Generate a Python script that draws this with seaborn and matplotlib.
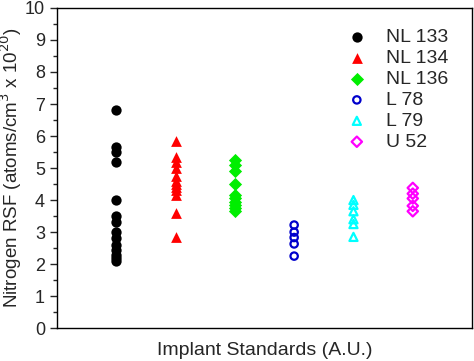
import numpy as np
import pandas as pd
import seaborn as sns
import matplotlib
matplotlib.use("Agg")
import matplotlib.pyplot as plt
from matplotlib.ticker import MultipleLocator

labels = ["NL 133", "NL 134", "NL 136", "L 78", "L 79", "U 52"]
nl133 = [6.8, 5.65, 5.5, 5.2, 4.0, 3.5, 3.3, 3.0, 2.8, 2.6, 2.45, 2.3, 2.2, 2.1]
nl134 = [5.85, 5.35, 5.2, 5.0, 4.75, 4.6, 4.5, 4.4, 4.3, 4.15, 3.6, 2.85]
nl136 = [5.25, 5.1, 4.9, 4.5, 4.15, 4.05, 3.95, 3.85, 3.75, 3.65]
l78 = [3.22, 3.0, 2.83, 2.63, 2.25]
l79 = [4.0, 3.85, 3.65, 3.4, 3.25, 2.85]
u52 = [4.38, 4.2, 4.05, 3.82, 3.65]
series = [nl133, nl134, nl136, l78, l79, u52]
colors = ["black", "red", "#00ee00", "#0000cc", "cyan", "magenta"]
markers = ["o", "^", "D", "o", "^", "D"]
filled = [True, True, True, False, False, False]
sizes = [55, 60, 45, 28, 34, 28]

sns.set_style("ticks")
plt.rcParams['font.family'] = ['Liberation Sans', 'DejaVu Sans']

fig = plt.figure(figsize=(4.74, 3.61), dpi=100)
ax = fig.add_axes([0.120, 0.091, 0.876, 0.887])

for i, (lab, vals) in enumerate(zip(labels, series)):
    df = pd.DataFrame({"x": [i + 1] * len(vals), "y": vals})
    if filled[i]:
        sns.scatterplot(data=df, x="x", y="y", ax=ax, color=colors[i], marker=markers[i],
                        s=sizes[i], edgecolor=colors[i], linewidth=0, label=lab)
    else:
        sns.scatterplot(data=df, x="x", y="y", ax=ax, marker=markers[i], s=sizes[i],
                        facecolors="none", edgecolor=colors[i], linewidth=1.6, label=lab)

ax.set_xlim(0, 7)
ax.set_ylim(0, 10)
ax.set_xticks([])
ax.yaxis.set_major_locator(MultipleLocator(1))
ax.yaxis.set_minor_locator(MultipleLocator(0.5))
ax.tick_params(axis='y', which='major', direction='out', length=5, width=1, labelsize=13)
ax.tick_params(axis='y', which='minor', direction='out', length=3, width=1)
for sp in ax.spines.values():
    sp.set_linewidth(1)
    sp.set_color("black")

ax.set_xlabel("Implant Standards (A.U.)", fontsize=14, labelpad=10)
ax.set_ylabel("Nitrogen RSF (atoms/cm$^3$ x 10$^{20}$)", fontsize=13.5)
ax.yaxis.set_label_coords(-0.078, 0.5)

leg = ax.legend(loc="upper right", frameon=False, fontsize=14, handletextpad=0.5,
                labelspacing=0.17, borderaxespad=0.5, bbox_to_anchor=(0.985, 0.99))

fig.savefig("out.png", dpi=100)
